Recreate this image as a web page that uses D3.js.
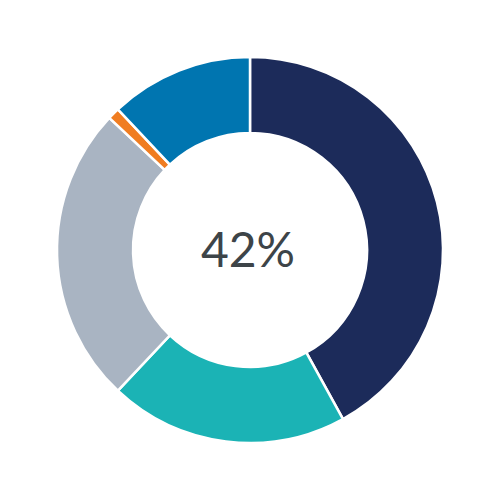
<!DOCTYPE html>
<html><head><meta charset="utf-8">
<script src="https://cdn.jsdelivr.net/npm/d3@7"></script>
<style>body{margin:0;background:#fff}</style>
</head><body>
<svg id="c" width="500" height="500"></svg>
<script>
const categories = ["A", "B", "C", "D", "E"];
const values = [42, 20, 25, 1, 12];
const colors = ["#1c2b5a", "#1bb3b5", "#a9b4c2", "#f07d21", "#0075b0"];
const centerLabel = "42%";

const svg = d3.select("#c");
const g = svg.append("g").attr("transform", "translate(250,250)");
const pie = d3.pie().sort(null).value(d => d.v);
const arc = d3.arc().innerRadius(117).outerRadius(193);
const data = categories.map((c, i) => ({c, v: values[i], col: colors[i]}));
g.selectAll("path").data(pie(data)).join("path")
  .attr("d", arc).attr("fill", d => d.data.col)
  .attr("stroke", "#fff").attr("stroke-width", 2.5);
g.append("text").text(centerLabel)
  .attr("text-anchor", "middle").attr("dy", "0.35em").attr("x", -2)
  .attr("font-family", "Lato, sans-serif").attr("font-size", 48)
  .attr("fill", "#3d4448");
</script>
</body></html>
